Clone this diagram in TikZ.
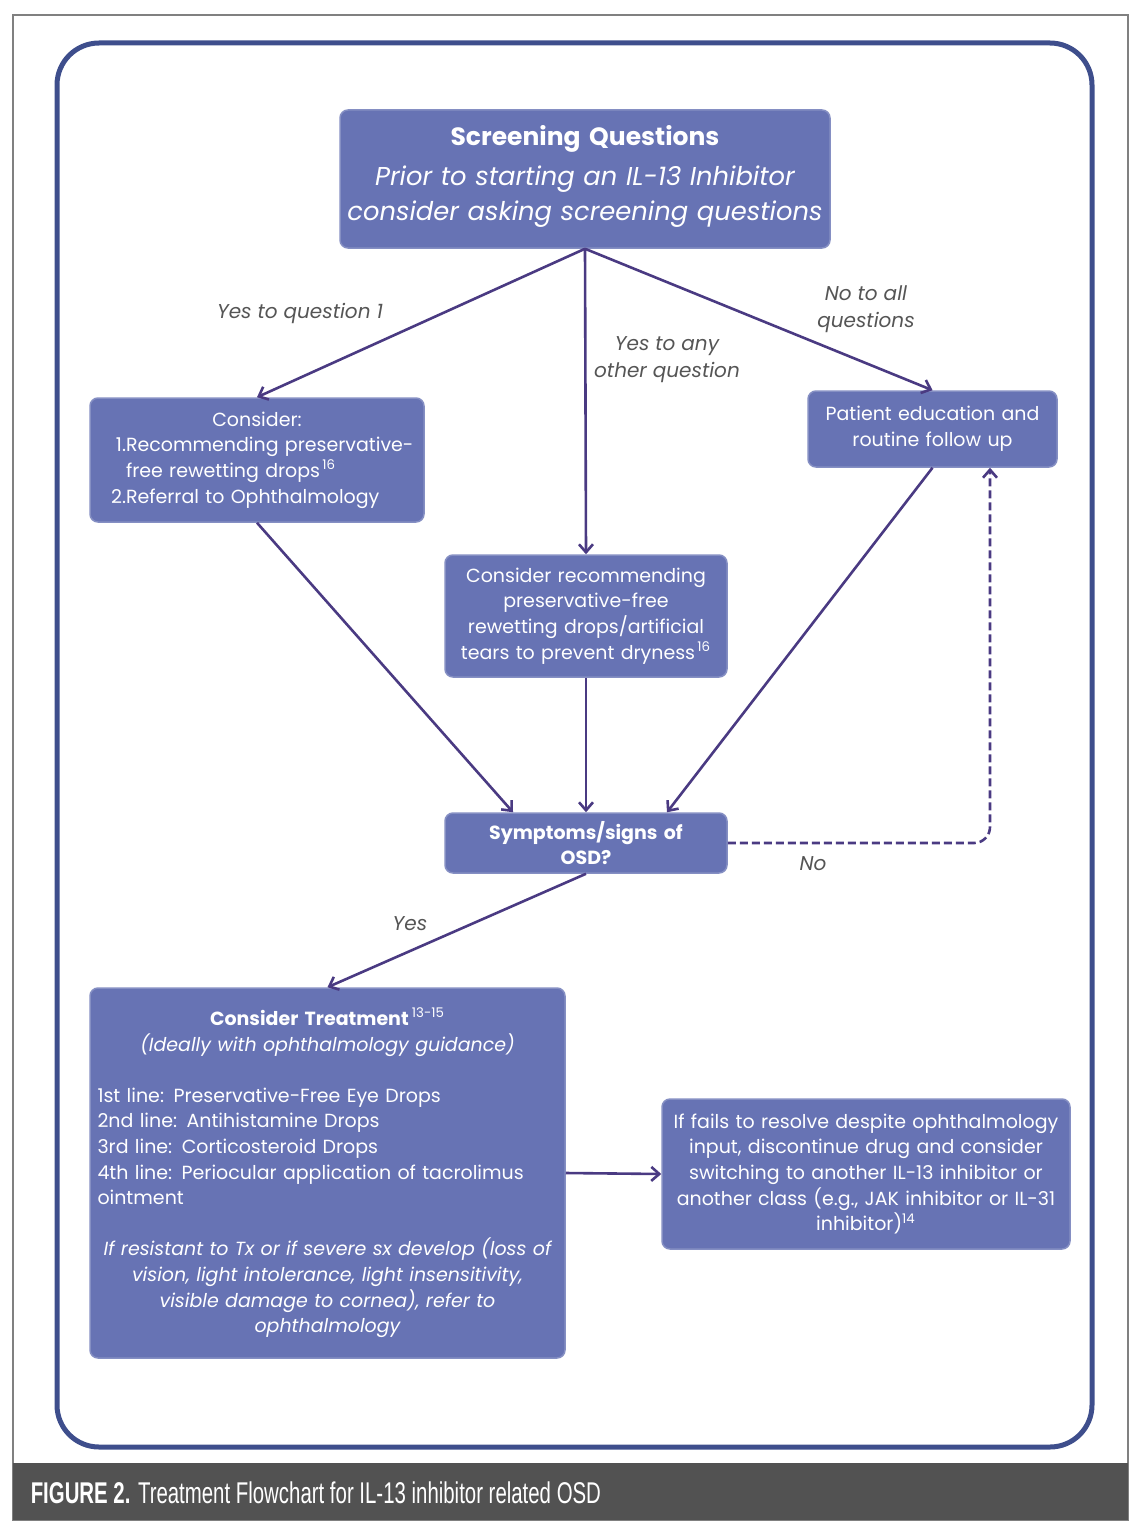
\documentclass[tikz,border=0pt]{standalone}
\usepackage{fontspec}
\setmainfont{Poppins}
\newfontfamily\capfont[FakeStretch=0.68]{Liberation Sans}
\usetikzlibrary{arrows.meta}
\setlength{\parindent}{0pt}
\hyphenpenalty=10000

\definecolor{boxblue}{RGB}{103,115,180}
\definecolor{arrowpurple}{RGB}{74,58,130}
\definecolor{frameblue}{RGB}{62,78,140}
\definecolor{labelgray}{RGB}{85,85,85}
\definecolor{capgray}{RGB}{82,82,82}

\tikzset{every picture/.style={line width=0.75pt}}
\tikzset{
  flowbox/.style={draw=boxblue!80!white, fill=boxblue, rounded corners=4pt, text=white,
    inner xsep=2.5pt, inner ysep=3pt, align=center, font=\fontsize{9.5}{12.8}\selectfont},
  flowarrow/.style={draw=arrowpurple, line width=1.3pt, -{Straight Barb[length=4pt,width=7pt]}},
  branchlabel/.style={text=labelgray, align=center, font=\fontsize{10}{13.5}\selectfont\itshape},
}

\begin{document}
\begin{tikzpicture}[x=0.5pt,y=0.5pt,yscale=-1,xscale=1]
    \useasboundingbox (0,0) rectangle (1145,1536);

    %Shape: Page frame
    \draw [draw=gray, line width=0.6pt] (13,15) rectangle (1128,1520) ;
    %Shape: Caption bar
    \fill [capgray] (13,1463) rectangle (1128,1520) ;
    %Shape: Rounded Rectangle
    \draw [draw=frameblue, line width=2.5pt, rounded corners=21pt] (57,43) rectangle (1092,1447) ;

    % Text Node
    \node [flowbox, minimum width=245pt, minimum height=69pt, text width=240pt, font=\fontsize{12.9}{17.5}\selectfont\itshape] (screen) at (585,179)
      {{\fontsize{12.5}{15}\selectfont\bfseries\upshape Screening Questions}\\[2.5pt]
       Prior to starting an IL-13 Inhibitor\\consider asking screening questions\\[-11.5pt]\mbox{}};
    % Text Node
    \node [flowbox, minimum width=167pt, minimum height=62pt, text width=162pt, align=left] (cons1) at (257,460)
      {\centering Consider:\par
       \raggedright\makebox[15.5pt][r]{1.}Recommending preservative-\\
       \hspace*{15.5pt}free rewetting drops\textsuperscript{\,16}\\
       \makebox[15.5pt][r]{2.}Referral to Ophthalmology\par};
    % Text Node
    \node [flowbox, minimum width=141pt, minimum height=61pt, text width=136pt] (cons2) at (586,616)
      {Consider recommending\\preservative-free\\rewetting drops/artificial\\tears to prevent dryness\textsuperscript{\,16}};
    % Text Node
    \node [flowbox, minimum width=124.5pt, minimum height=38pt, text width=119pt] (pat) at (932.5,429)
      {Patient education and\\routine follow up};
    % Text Node
    \node [flowbox, minimum width=141pt, minimum height=30pt, text width=136pt, font=\fontsize{9.5}{12.8}\selectfont\bfseries] (osd) at (586,843)
      {Symptoms/signs of\\OSD?};
    % Text Node
    \node [flowbox, minimum width=237.5pt, minimum height=185pt, text width=233pt, inner xsep=2.25pt, align=left] (treat) at (327.5,1173)
      {\centering{\bfseries Consider Treatment}\,\textsuperscript{13-15}\\
       \textit{(Ideally with ophthalmology guidance)}\par
       \vspace{12.8pt}
       \raggedright\hspace*{1.5pt}1st line: Preservative-Free Eye Drops\\
       \hspace*{1.5pt}2nd line: Antihistamine Drops\\
       \hspace*{1.5pt}3rd line: Corticosteroid Drops\\
       \hspace*{1.5pt}4th line: Periocular application of tacrolimus\\
       \hspace*{1.5pt}ointment\par
       \vspace{12.8pt}
       \centering\itshape If resistant to Tx or if severe sx develop (loss of\\
       vision, light intolerance, light insensitivity,\\
       visible damage to cornea), refer to\\
       ophthalmology\par};
    % Text Node
    \node [flowbox, minimum width=204pt, minimum height=75pt, text width=199pt] (fails) at (866,1174)
      {If fails to resolve despite ophthalmology\\input, discontinue drug and consider\\switching to another IL-13 inhibitor or\\another class (e.g., JAK inhibitor or IL-31\\inhibitor)\textsuperscript{14}};

    %Straight Lines
    \draw [flowarrow] (screen.south) -- (cons1.north) ;
    \draw [flowarrow] (screen.south) -- (cons2.north) ;
    \draw [flowarrow] (screen.south) -- (pat.north) ;
    \draw [flowarrow] (cons1.south) -- ([xshift=-36.5pt]osd.north) ;
    \draw [flowarrow] (cons2.south) -- (osd.north) ;
    \draw [flowarrow] (pat.south) -- ([xshift=40.5pt]osd.north) ;
    \draw [flowarrow, dash pattern=on 4pt off 2pt, rounded corners=8pt] (osd.east) -| ([xshift=28.75pt]pat.south) ;
    \draw [flowarrow] (osd.south) -- (treat.north) ;
    \draw [flowarrow] (treat.east) -- (fails.west) ;

    % Text Node
    \node [branchlabel] (q1) at (300,313) {Yes to question 1};
    % Text Node
    \node [branchlabel] (qany) at (667,360) {Yes to any\\other question};
    % Text Node
    \node [branchlabel] (qnone) at (866,309) {No to all\\questions};
    % Text Node
    \node [branchlabel] (ansno) at (813,864) {No};
    % Text Node
    \node [branchlabel] (ansyes) at (410,924) {Yes};

    % Text Node
    \node [anchor=west, text=white, inner sep=0pt] (caption) at (30,1493)
      {\capfont\fontsize{15}{18}\selectfont{\bfseries FIGURE 2.} Treatment Flowchart for IL-13 inhibitor related OSD};
\end{tikzpicture}
\end{document}
